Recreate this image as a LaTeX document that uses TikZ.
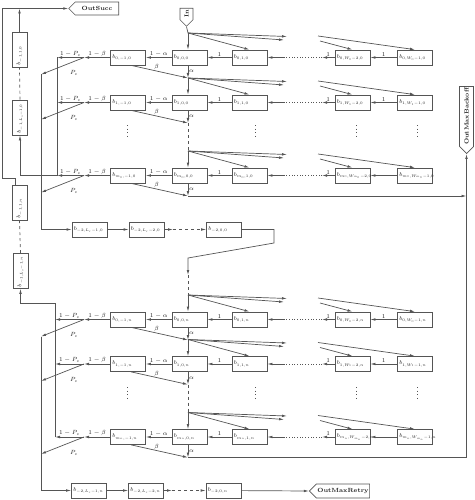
\RequirePackage{fix-cm}
\documentclass[tikz,border=0pt]{standalone}
\usepackage{fontspec}
\usetikzlibrary{arrows.meta,shapes.symbols,calc}
\DeclareMathSizes{6}{6}{4.2}{3.2}
\DeclareMathSizes{5.5}{5.5}{3.8}{2.9}
\definecolor{lc}{HTML}{555555}
\definecolor{tc}{HTML}{222222}
\tikzset{
  ln/.style={draw=lc, line width=0.7pt},
  ar/.style={ln, -{Latex[length=5pt,width=2.6pt]}},
  bx/.style={draw=lc, line width=0.7pt, fill=white, minimum height=15pt, text width=32pt,
    inner xsep=1.5pt, inner ysep=0pt, align=left, text=tc, font=\fontsize{5.5}{6.5}\selectfont},
  vbx/.style={bx, rotate=90},
  lb/.style={font=\fontsize{6}{7}\selectfont, inner sep=0.8pt, text=tc},
  vd/.style={draw=lc, line width=1pt, dash pattern=on 1pt off 2.6pt},
  tag/.style={signal, signal to=west, draw=lc, line width=0.7pt, fill=white, text=tc,
    font=\fontsize{6}{7}\selectfont\bfseries, inner sep=1pt},
}
\newcommand{\brow}[7]{%
  \node[bx] (#1m) at (128,#2) {$b_{#3,-1,#4}$};
  \node[bx] (#1z) at (189.5,#2) {$b_{#3,0,#4}$};
  \node[bx] (#1a) at (249.5,#2) {$b_{#3,1,#4}$};
  \node[bx] (#1c) at (352.5,#2) {$b_{#3,#5-2,#4}$};
  \node[bx] (#1d) at (415,#2) {$b_{#3,#5-1,#4}$};
  \coordinate (#1f) at (188,{#2-24.5});
  \coordinate (#1j) at (188,{#2+20.5});
  \coordinate (#1k) at (84,#2);
  \coordinate (#1p) at (287,{#2-21});
  \coordinate (#1q) at (284,{#2-17.5});
  \coordinate (#1r) at (318,{#2-21.5});
  \coordinate (#1s) at (320,{#2-16.5});
  \coordinate (#1u) at (322,#2);
  \coordinate (#1v) at (285,#2);
  \coordinate (#1b) at (#7,#2);
  \coordinate (#1e) at (41,{#2+17});
  \draw[ar] (#1f) -- (#1f |- #1z.north);
  \draw[ar] (#1f) -- (#1a.north);
  \draw[ar] (#1f) -- (#1p);
  \draw[ar] (#1f) -- (#1q);
  \draw[ar] (#1r) -- (#1d.north);
  \draw[ar] (#1s) -- (#1c.north);
  \draw[ar] (#1d) -- node[lb,above]{#6} (#1c);
  \draw[ar] (#1c) -- node[lb,above]{$1$} (#1u);
  \draw[ln,dotted] (#1u) -- (#1v);
  \draw[ar] (#1v) -- (#1a);
  \draw[ar] (#1a) -- node[lb,above]{$1$} (#1z);
  \draw[ar] (#1z) -- node[lb,above]{$1-\alpha$} (#1m);
  \draw[ar] (#1m) -- node[lb,above]{$1-\beta$} (#1k);
  \draw[ar] (#1k) -- node[lb,above]{$1-P_c$} (#1b);
  \draw[ar] (#1k) -- (#1e);
  \node[lb] (#1g) at (74,{#2+15.5}) {$P_c$};
  \draw[ar] (#1f |- #1z.south) -- node[lb,right]{$\alpha$} (#1j);
  \draw[ar] ($(#1m.south)+(3,0)$) -- node[lb,above,pos=0.45]{$\beta$} (#1j);
}
\begin{document}
\begin{tikzpicture}[x=1pt,y=-1pt]
\useasboundingbox (0,0) rectangle (474,500);
% terminals
\node[tag, rotate=90, minimum width=18pt, minimum height=13pt] (In) at (186.5,14) {In};
\node[tag, minimum width=50pt, minimum height=13pt] (OS) at (97,8.5) {OutSucc};
\node[tag, rotate=90, minimum width=67pt, minimum height=14pt] (OMB) at (466.5,116.5) {OutMaxBackoff};
\node[tag, minimum width=60pt, minimum height=14pt] (OMR) at (343,491) {OutMaxRetry};
% stage 0 rows
\brow{sa}{57.5}{0}{0}{W_0}{$1$}{57}
\brow{sb}{102.5}{1}{0}{W_1}{$1$}{57}
\brow{sc}{175.5}{m_0}{0}{W_{m_0}}{}{57}
% stage n rows
\brow{ta}{319.5}{0}{n}{W_0}{$1$}{55}
\brow{tb}{364}{1}{n}{W_1}{$1$}{55}
\brow{tc}{437}{m_n}{n}{W_{m_n}}{}{55}
% vertical links between rows
\draw[ln] (In.west) -- (saf);
\draw[ln,dashed] (sbj) -- (scf);
\draw[ln,dashed] (tbj) -- (tcf);
\draw[ar] (scj) -- (scj -| OMB.west);
\draw[ar] (tcj) -| (OMB.west);
% column dots
\foreach \cx in {127,255,356,417}{
  \draw[vd] (\cx,125) -- (\cx,139);
  \draw[vd] (\cx,387) -- (\cx,401);
}
% left column boxes
\node[vbx] (L0a) at (19.5,49.5) {$b_{-1,1,0}$};
\node[vbx] (L0b) at (20,117.5) {$b_{-1,L_s-1,0}$};
\node[vbx] (Lna) at (19.5,202.5) {$b_{-1,1,n}$};
\node[vbx] (Lnb) at (20.5,271) {$b_{-1,L_s-1,n}$};
% buses to the left column
\draw[ar] (sab) -- (scb) -| (L0b.west);
\coordinate (tbt) at (55,303);
\draw[ar] (tcb) -- (tbt) -| (Lnb.west);
\draw[ln,dashed] (L0b.east) -- (L0a.west);
\draw[ln,dashed] (Lnb.east) -- (Lna.west);
\draw[ar] (L0a.east) -- (L0a.east |- OS.west);
\coordinate (c1) at (15,178);
\coordinate (c2) at (2,178);
\draw[ar] (Lna.east -| c1) -- (c1) -- (c2) |- (OS.west);
% retry row, stage 0
\node[bx] (R0a) at (89.5,229.5) {$b_{-2,L_r-1,0}$};
\node[bx] (R0b) at (146.5,229.5) {$b_{-2,L_r-2,0}$};
\node[bx] (R0c) at (224,229.5) {$b_{-2,0,0}$};
\draw[ar] (sae) |- (R0a.west);
\draw[ar] (R0a) -- (R0b);
\coordinate (R0d) at (173,229.5);
\draw[ar] (R0b) -- (R0d);
\draw[ar,dashed] (R0d) -- (R0c);
\coordinate (R0e) at (274,229.5);
\coordinate (R0f) at (274,243);
\coordinate (R0g) at (188,258);
\coordinate (R0h) at (188,275);
\draw[ar] (R0c) -- (R0e) -- (R0f) -- (R0g) -- (R0h);
\draw[ln,dashed] (R0h) -- (taf);
% retry row, stage n
\node[bx] (Rna) at (89,490.5) {$b_{-2,L_r-1,n}$};
\node[bx] (Rnb) at (146,490.5) {$b_{-2,L_r-2,n}$};
\node[bx] (Rnc) at (223.5,490.5) {$b_{-2,0,n}$};
\draw[ar] (tae) |- (Rna.west);
\draw[ar] (Rna) -- (Rnb);
\coordinate (Rnd) at (172,490.5);
\draw[ar] (Rnb) -- (Rnd);
\draw[ar,dashed] (Rnd) -- (Rnc);
\draw[ar] (Rnc) -- (OMR.west);
\end{tikzpicture}
\end{document}
